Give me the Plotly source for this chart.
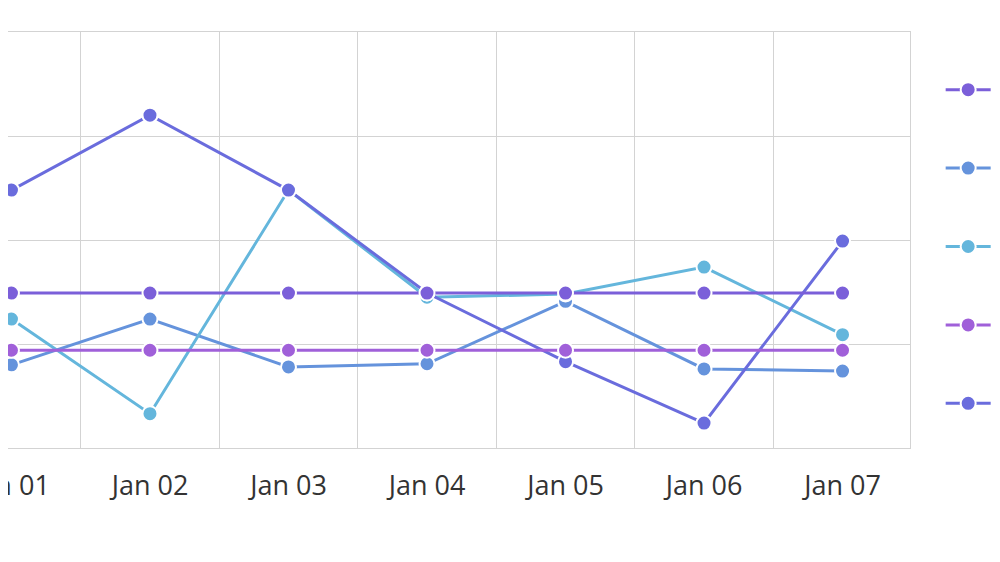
import plotly.graph_objects as go

days = ["Jan 01", "Jan 02", "Jan 03", "Jan 04", "Jan 05", "Jan 06", "Jan 07"]

# series values (axis labels are cropped, 0-400 scale assumed)
purple = [149, 149, 149, 149, 149, 149, 149]
blue = [80, 124, 78, 81, 141, 76, 74]
cyan = [124, 33, 248, 145, 148, 174, 109]
violet = [94, 94, 94, 94, 94, 94, 94]
indigo = [248, 320, 248, 149, 83, 24, 199]

names = ["Series A", "Series B", "Series C", "Series D", "Series E"]
colors = ["#7b5fd9", "#6593dc", "#64b6dc", "#a060d9", "#6a6cdd"]
series = [purple, blue, cyan, violet, indigo]

# drawing order: blue, cyan, indigo under the two flat lines
draw_order = [1, 2, 4, 3, 0]

fig = go.Figure()
for i in draw_order:
    fig.add_trace(go.Scatter(
        x=days, y=series[i], name=names[i], mode="lines+markers",
        line=dict(color=colors[i], width=3),
        marker=dict(size=15, color=colors[i], line=dict(color="white", width=2)),
        legendrank=i + 1, legendgroup=names[i],
    ))

fig.update_layout(
    width=1000, height=562,
    margin=dict(l=0, r=98, t=24, b=122, autoexpand=False),
    plot_bgcolor="white", paper_bgcolor="white",
    font=dict(family="Open Sans", size=27, color="#333333"),
    showlegend=True,
    legend=dict(x=1.034, y=0.905, xanchor="left", yanchor="top",
                tracegroupgap=52, traceorder="grouped", itemwidth=45,
                font=dict(size=18)),
)
fig.update_xaxes(
    type="category", range=[-0.025, 6.487], tickson="boundaries",
    showgrid=True, gridcolor="#d3d3d3", gridwidth=1,
    showline=True, linecolor="#d3d3d3", mirror=True,
    ticks="", ticklabelstandoff=14, automargin=False,
)
fig.update_yaxes(
    range=[0, 400], dtick=100, side="right",
    showgrid=True, gridcolor="#d3d3d3", gridwidth=1,
    showline=True, linecolor="#d3d3d3",
    showticklabels=False, zeroline=False, ticks="", automargin=False,
)

fig.write_html("out.html")
